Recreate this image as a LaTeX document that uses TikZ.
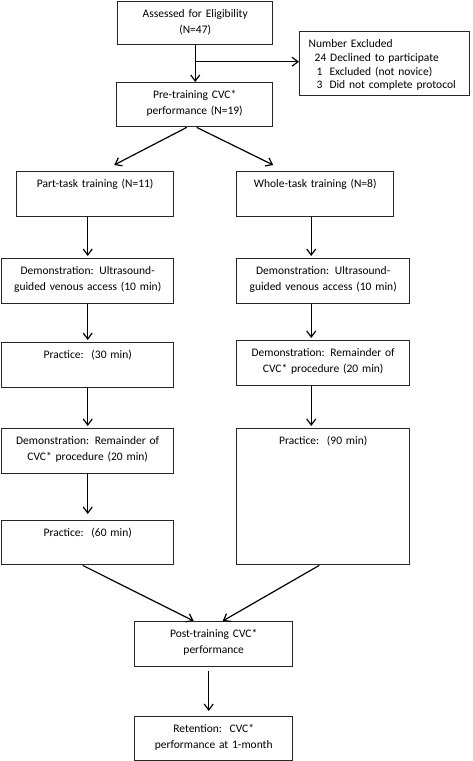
\documentclass[tikz,border=0pt]{standalone}
\usepackage{fontspec}
\setmainfont{Carlito}
\usetikzlibrary{arrows.meta}

\begin{document}
\begin{tikzpicture}[x=1pt, y=-1pt,
    box/.style={draw=black!85, line width=1.4pt, anchor=north west, align=center,
      inner xsep=0pt, inner ysep=0pt, text height=16pt, text depth=29pt,
      font=\fontsize{11.5}{15.5}\selectfont},
    arr/.style={-{Straight Barb[length=6pt,width=9pt]}, line width=1.2pt, shorten >=2pt}]
    \useasboundingbox (0,0) rectangle (473,761);
    \node[box, text width=155pt, text depth=27pt] (assessed) at (117,1) {Assessed for Eligibility\\(N=47)};
    \node[box, text width=156pt, text depth=28pt] (pre) at (116,82) {Pre-training CVC*\\performance (N=19)};
    \node[box, align=left, text width=152pt, inner xsep=9pt, text depth=48pt,
      font=\fontsize{11.5}{13.7}\selectfont] (excl) at (299,31)
      {Number Excluded\\\hspace*{6pt}24 Declined to participate\\\hspace*{8pt}1\hspace*{7pt}Excluded (not novice)\\\hspace*{8pt}3\hspace*{7pt}Did not complete protocol};
    \node[box, text width=157pt] (part) at (16,171) {Part-task training (N=11)};
    \node[box, text width=157pt] (whole) at (236,171) {Whole-task training (N=8)};
    \node[box, text width=172pt] (demoL) at (1,258) {Demonstration: Ultrasound-\\guided venous access (10 min)};
    \node[box, text width=173pt] (demoR) at (236,258) {Demonstration: Ultrasound-\\guided venous access (10 min)};
    \node[box, text width=172pt] (prac30) at (1,342) {Practice:\ \ (30 min)};
    \node[box, text width=173pt] (remR) at (236,340) {Demonstration: Remainder of\\CVC* procedure (20 min)};
    \node[box, text width=172pt] (remL) at (1,428) {Demonstration: Remainder of\\CVC* procedure (20 min)};
    \node[box, text width=173pt, text depth=120pt] (prac90) at (236,428) {Practice:\ \ (90 min)};
    \node[box, text width=172pt, text depth=28pt] (prac60) at (1,520) {Practice:\ \ (60 min)};
    \node[box, text width=158pt] (post) at (134,621) {Post-training CVC*\\performance};
    \node[box, text width=158pt, text depth=28pt] (ret) at (134,716) {Retention:\ \ CVC*\\performance at 1-month};

    \draw[arr, shorten >=0pt] (assessed.south) -- (assessed.south |- pre.north);
    \draw[arr, shorten >=0pt] ([yshift=2pt]assessed.south |- excl.west) -- ([yshift=2pt]excl.west);
    \draw[arr, shorten >=0pt] ([xshift=-8pt]pre.south) -- ([xshift=19pt,yshift=6pt]part.north);
    \draw[arr, shorten >=0pt] ([xshift=2pt]pre.south) -- ([xshift=-42pt,yshift=6pt]whole.north);
    \draw[arr] (demoL.north |- part.south) -- (demoL.north);
    \draw[arr] (demoL) -- (prac30);
    \draw[arr] (prac30) -- (remL);
    \draw[arr, shorten >=6pt] (remL) -- (prac60);
    \draw[arr] ([xshift=-4pt]whole.south) -- ([xshift=-4pt]whole.south |- demoR.north);
    \draw[arr] ([xshift=-12pt]demoR.south) -- ([xshift=-12pt]remR.north);
    \draw[arr] ([xshift=-12pt]remR.south) -- ([xshift=-12pt]prac90.north);
    \draw[arr, shorten >=0pt] ([xshift=-5pt]prac60.south) -- ([xshift=-20pt]post.north);
    \draw[arr, shorten >=0pt] ([xshift=-4pt]prac90.south) -- ([xshift=9pt]post.north);
    \draw[arr, shorten >=5pt] ([xshift=-5pt,yshift=-4pt]post.south) -- ([xshift=-5pt]ret.north);
\end{tikzpicture}
\end{document}
